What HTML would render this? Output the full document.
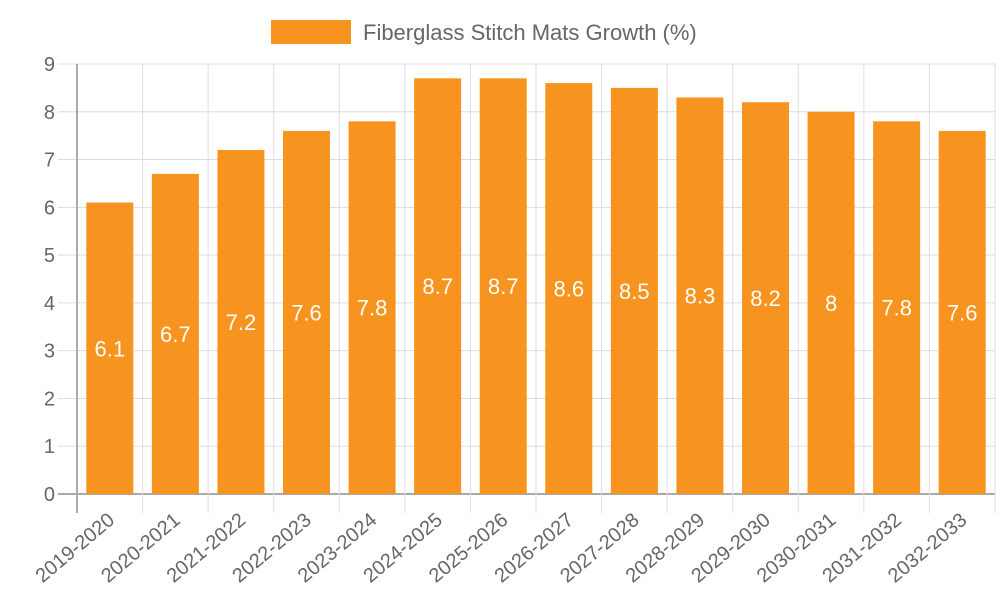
<!DOCTYPE html>
<html><head><meta charset="utf-8"><style>
body{margin:0;background:#fff;}
svg text{font-family:"Liberation Sans",Arial,sans-serif;}
</style></head><body>
<svg id="chart" width="1000" height="600" xmlns="http://www.w3.org/2000/svg">
<g id="legend">
<rect x="271" y="20" width="80" height="24" fill="#F7941F"/>
<text x="363" y="40" font-size="22" fill="#666">Fiberglass Stitch Mats Growth (%)</text>
</g>
<g id="grid"></g><g id="bars"></g><g id="labels"></g>
</svg>
<script>
const categories=["2019-2020","2020-2021","2021-2022","2022-2023","2023-2024","2024-2025","2025-2026","2026-2027","2027-2028","2028-2029","2029-2030","2030-2031","2031-2032","2032-2033"];
const growth=[6.1,6.7,7.2,7.6,7.8,8.7,8.7,8.6,8.5,8.3,8.2,8,7.8,7.6];
const yTicks=[0,1,2,3,4,5,6,7,8,9];
const NS="http://www.w3.org/2000/svg";
const L=77,R=995,T=64,B=494,yMax=9;
const band=(R-L)/categories.length;
const y=v=>B-(v/yMax)*(B-T);
const x=i=>L+band*i;
function mk(tag,attrs,parent,txt){const e=document.createElementNS(NS,tag);for(const k in attrs)e.setAttribute(k,attrs[k]);if(txt!==undefined)e.textContent=txt;parent.appendChild(e);return e;}
const grid=document.getElementById('grid'),bars=document.getElementById('bars'),labels=document.getElementById('labels');
yTicks.forEach(t=>{
  const ln=mk('line',{x1:58,x2:R,y1:y(t),y2:y(t),stroke:t===0?'#aaa':'#ddd','stroke-width':t===0?2:1},grid);
  
  
  const tx=mk('text',{x:55,y:y(t)+7,'text-anchor':'end','font-size':20,fill:'#666'},grid,String(t));
  
  
});
for(let i=0;i<=categories.length;i++){
  const ln=mk('line',{x1:x(i),x2:x(i),y1:T,y2:513,stroke:i===0?'#aaa':'#ddd','stroke-width':i===0?2:1},grid);
  
  
}
categories.forEach((c,i)=>{
  const cx=x(i)+band/2,w=47,v=growth[i];
  const r=mk('rect',{x:cx-w/2,y:y(v),width:w,height:B-y(v),fill:'#F7941F'},bars);
  
  
  const vl=mk('text',{x:cx,y:(y(v)+B)/2+8,'text-anchor':'middle','font-size':22,fill:'#fff'},labels,String(v));
  
  
  const xl=mk('text',{x:0,y:0,'text-anchor':'end','font-size':20,fill:'#666',transform:`translate(${cx+6},${522}) rotate(-40)`},labels,c);
  
  
});
</script>
</body></html>
